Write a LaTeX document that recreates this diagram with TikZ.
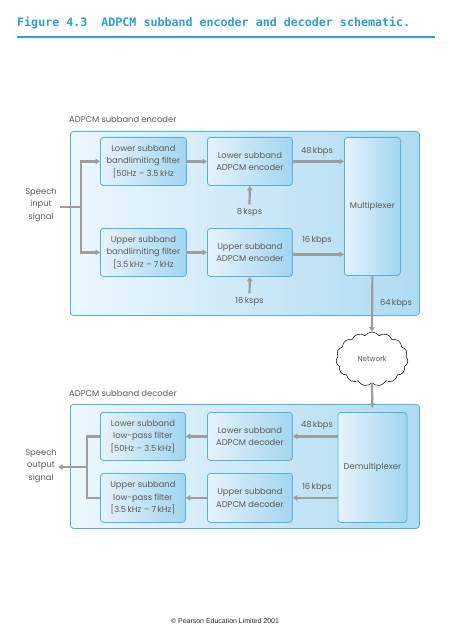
\documentclass[tikz,border=0pt]{standalone}
\usepackage{fontspec}
\setmainfont{Poppins}
\newfontfamily\titlefont{DejaVu Sans Mono}
\newfontfamily\copyfont{Liberation Sans}
\usetikzlibrary{arrows.meta,shapes.symbols}
\definecolor{titleblue}{HTML}{2B9FD8}
\definecolor{boxblue}{HTML}{52B4DE}
\definecolor{outl}{HTML}{EDF7FD}
\definecolor{outr}{HTML}{AEDBF2}
\definecolor{inl}{HTML}{E6F3FB}
\definecolor{inr}{HTML}{A2D5F0}
\definecolor{txt}{HTML}{5A5A5A}
\definecolor{arrgray}{HTML}{9E9E9E}
\tikzset{
  every node/.style={font=\fontsize{8.4}{12.6}\selectfont, text=txt},
  outerbox/.style={draw=boxblue, line width=0.8bp, rounded corners=3bp, left color=outl, right color=outr, anchor=north west, inner sep=0pt},
  blk/.style={draw=boxblue, line width=0.8bp, rounded corners=3bp, left color=inl, right color=inr, anchor=north west, inner sep=0pt, align=center},
  lbl/.style={align=center},
  conn/.style={draw=arrgray, line width=2.2bp},
  arr/.style={conn, -{Triangle[length=4.5bp,width=5.5bp]}},
}
\begin{document}
\begin{tikzpicture}[x=1bp,y=-1bp]
\useasboundingbox (0,0) rectangle (452,640);
% title
\node[anchor=west, font=\titlefont\bfseries\fontsize{11.7}{12}\selectfont, text=titleblue, inner sep=0pt] (title) at (17,23) {Figure 4.3\ \ ADPCM subband encoder and decoder schematic.};
\draw[titleblue, line width=1.8bp] (17,37) coordinate (ul1) -- (435,37) coordinate (ul2);

% encoder
\node[anchor=west, inner sep=0pt] (enclabel) at (69,119) {ADPCM subband encoder};
\node[outerbox, minimum width=349bp, minimum height=184bp] (encbox) at (70,131) {};
\node[blk, minimum width=86bp, minimum height=48bp] (lf) at (100,137) {Lower subband\\bandlimiting filter\\{[}50Hz -- 3.5\,kHz};
\node[blk, minimum width=86bp, minimum height=48bp] (uf) at (100,228) {Upper subband\\bandlimiting filter\\{[}3.5\,kHz -- 7\,kHz};
\node[blk, minimum width=85bp, minimum height=48bp] (le) at (207,137) {Lower subband\\ADPCM encoder};
\node[blk, minimum width=85bp, minimum height=48bp] (ue) at (207,228) {Upper subband\\ADPCM encoder};
\node[blk, minimum width=56bp, minimum height=138bp] (mux) at (344,137) {Multiplexer};

\node[lbl] (sin) at (41,205) {Speech\\input\\signal};
\coordinate (inS) at (60,207);
\coordinate (jin) at (81,207);
\draw[conn] (inS) -- (jin);
\draw[arr] (jin) |- (lf.west);
\draw[arr] (jin) |- (uf.west);
\draw[arr] (lf.east) -- (le.west);
\draw[arr] (uf.east) -- (ue.west);
\node (k8) at (249.5,212) {8\,ksps};
\node (k16) at (249.5,301) {16\,ksps};
\draw[arr] (k8.north) -- (le.south);
\draw[arr] (k16.north) -- (ue.south);
\draw[arr] (le.east) -- (le.east -| mux.west);
\draw[arr] ([yshift=-2bp]ue.east) -- ([yshift=-2bp]ue.east -| mux.west);
\node (b48e) at (317,151) {48\,kbps};
\node (b16e) at (317,240) {16\,kbps};
\node (b64) at (396,303) {64\,kbps};

% network
\node[cloud, cloud puffs=15, cloud puff arc=110, aspect=1.35, draw=black, line width=0.5bp, fill=white, minimum width=72bp, minimum height=54bp, inner sep=0pt] (net) at (372,359) {\fontsize{7.2}{8}\selectfont Network};
\draw[arr] (mux.south) -- (net.north);

% decoder
\node[anchor=west, inner sep=0pt] (declabel) at (69,393) {ADPCM subband decoder};
\node[outerbox, minimum width=349bp, minimum height=124bp] (decbox) at (70,404) {};
\node[blk, minimum width=85bp, minimum height=48bp] (llp) at (100,412) {Lower subband\\low-pass filter\\{[}50Hz -- 3.5\,kHz{]}};
\node[blk, minimum width=85bp, minimum height=49bp] (ulp) at (100,473) {Upper subband\\low-pass filter\\{[}3.5\,kHz -- 7\,kHz{]}};
\node[blk, minimum width=85bp, minimum height=48bp] (ld) at (207,412) {Lower subband\\ADPCM decoder};
\node[blk, minimum width=85bp, minimum height=49bp] (ud) at (207,473) {Upper subband\\ADPCM decoder};
\node[blk, minimum width=69bp, minimum height=110bp] (demux) at (337.5,412) {Demultiplexer};
\draw[arr, shorten >=4bp] (net.south) -- (demux.north);
\draw[arr] (demux.west |- ld.east) -- (ld.east);
\draw[arr] (demux.west |- ud.east) -- (ud.east);
\node (b48d) at (317,425) {48\,kbps};
\node (b16d) at (317,487) {16\,kbps};
\draw[arr] (ld.west) -- (llp.east);
\draw[arr] (ud.west) -- (ulp.east);
\coordinate (jout) at (87,467);
\coordinate (outE) at (58,467);
\draw[conn] (llp.west) -| (jout) |- (ulp.west);
\draw[arr] (jout) -- (outE);
\node[lbl] (sout) at (41,466) {Speech\\output\\signal};

% copyright
\node[font=\copyfont\fontsize{7}{8}\selectfont, text=black!85] (copy) at (225,621) {\textcopyright\ Pearson Education Limited 2001};
\end{tikzpicture}
\end{document}
